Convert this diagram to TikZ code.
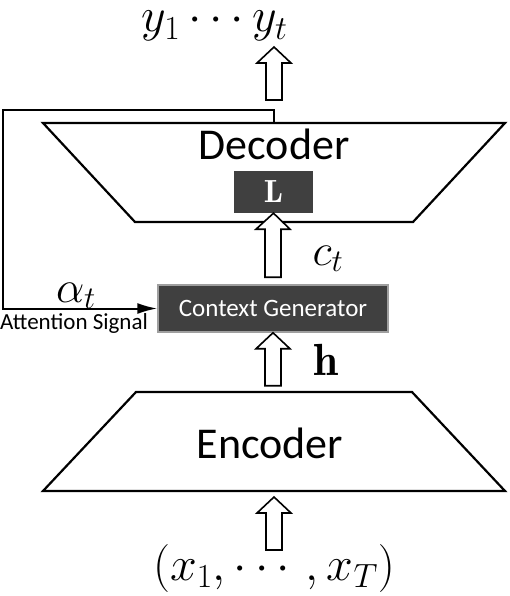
\RequirePackage{fix-cm}
\documentclass[tikz,border=0pt]{standalone}
\usepackage{amsmath}
\usepackage{fontspec}
\usepackage{tikz}
\usetikzlibrary{positioning,arrows.meta,calc}
\newfontfamily\calib{Carlito}
\definecolor{boxgray}{HTML}{404040}
\tikzset{
	block/.style={draw=black, line width=2.2pt, line join=miter},
	bigarrow/.style={draw=black, line width=1.6pt, fill=white, to path={let \p1=(\tikztostart), \p2=(\tikztotarget) in
		(\x1-8pt,\y1) -- (\x1-8pt,\y2-16pt) -- (\x1-17pt,\y2-16pt) -- (\x2,\y2) -- (\x1+17pt,\y2-16pt) -- (\x1+8pt,\y2-16pt) -- (\x1+8pt,\y1) -- cycle}},
	feedback/.style={draw=black, line width=2pt, -{Latex[length=20pt,width=11pt]}},
	darkbox/.style={fill=boxgray, text=white, inner sep=0pt},
	mathlbl/.style={inner sep=0pt, font=\fontsize{45}{50}\selectfont, anchor=base},
	iolbl/.style={mathlbl, font=\fontsize{48}{52}\selectfont},
	biglbl/.style={inner sep=0pt, font=\calib\fontsize{44}{50}\selectfont, anchor=base}
}
\begin{document}
\begin{tikzpicture}[x=1pt,y=-1pt]
		\useasboundingbox (0,0) rectangle (509,596);

		% decoder and encoder blocks
		\draw[block] (43,123) -- (505,123) -- (413,222) -- (135,222) -- cycle;
		\draw[block] (43,491) -- (136,392) -- (412,392) -- (505,491) -- cycle;
		\node[biglbl] (dec) at (274,160) {Decoder};
		\node[biglbl] (enc) at (270,458) {Encoder};

		\node[darkbox, minimum width=79pt, minimum height=42pt, font=\fontsize{32}{36}\selectfont] (L) at (273.5,192) {$\mathbf{L}$};
		\node[darkbox, draw=gray!75, line width=1.5pt, minimum width=230pt, minimum height=47pt, font=\calib\fontsize{25}{28}\selectfont] (ctx) at (273,308.5) {Context Generator};

		\coordinate (dectop) at (274,123);
		\coordinate (outbot) at (274,100); \coordinate (outtip) at (274,47);
		\coordinate (inbot) at (274,550); \coordinate (intip) at (274,497);

		% outputs and inputs
		\node[iolbl] (ys) at (214.5,32) {$y_1\cdots y_t$};
		\node[iolbl] (xs) at (274,580) {$(x_1,\cdots,x_T)$};

		\draw[bigarrow] (outbot) to (outtip);
		\draw[bigarrow] ([yshift=7pt]ctx.north) to (L.south);
		\draw[bigarrow] ([yshift=-53pt]ctx.south) to (ctx.south);
		\draw[bigarrow] (inbot) to (intip);

		\node[mathlbl] (ct) at (328,265) {$c_t$};
		\node[mathlbl] (h) at (326,375) {$\mathbf{h}$};

		% attention feedback
		\draw[feedback] (dectop) |- (3,110) |- (ctx.west);
		\node[mathlbl] (alpha) at (76,302) {$\alpha_t$};
		\node[inner sep=0pt, anchor=base west, font=\calib\fontsize{23}{26}\selectfont] (att) at (0,329) {Attention Signal};
	\end{tikzpicture}
\end{document}
